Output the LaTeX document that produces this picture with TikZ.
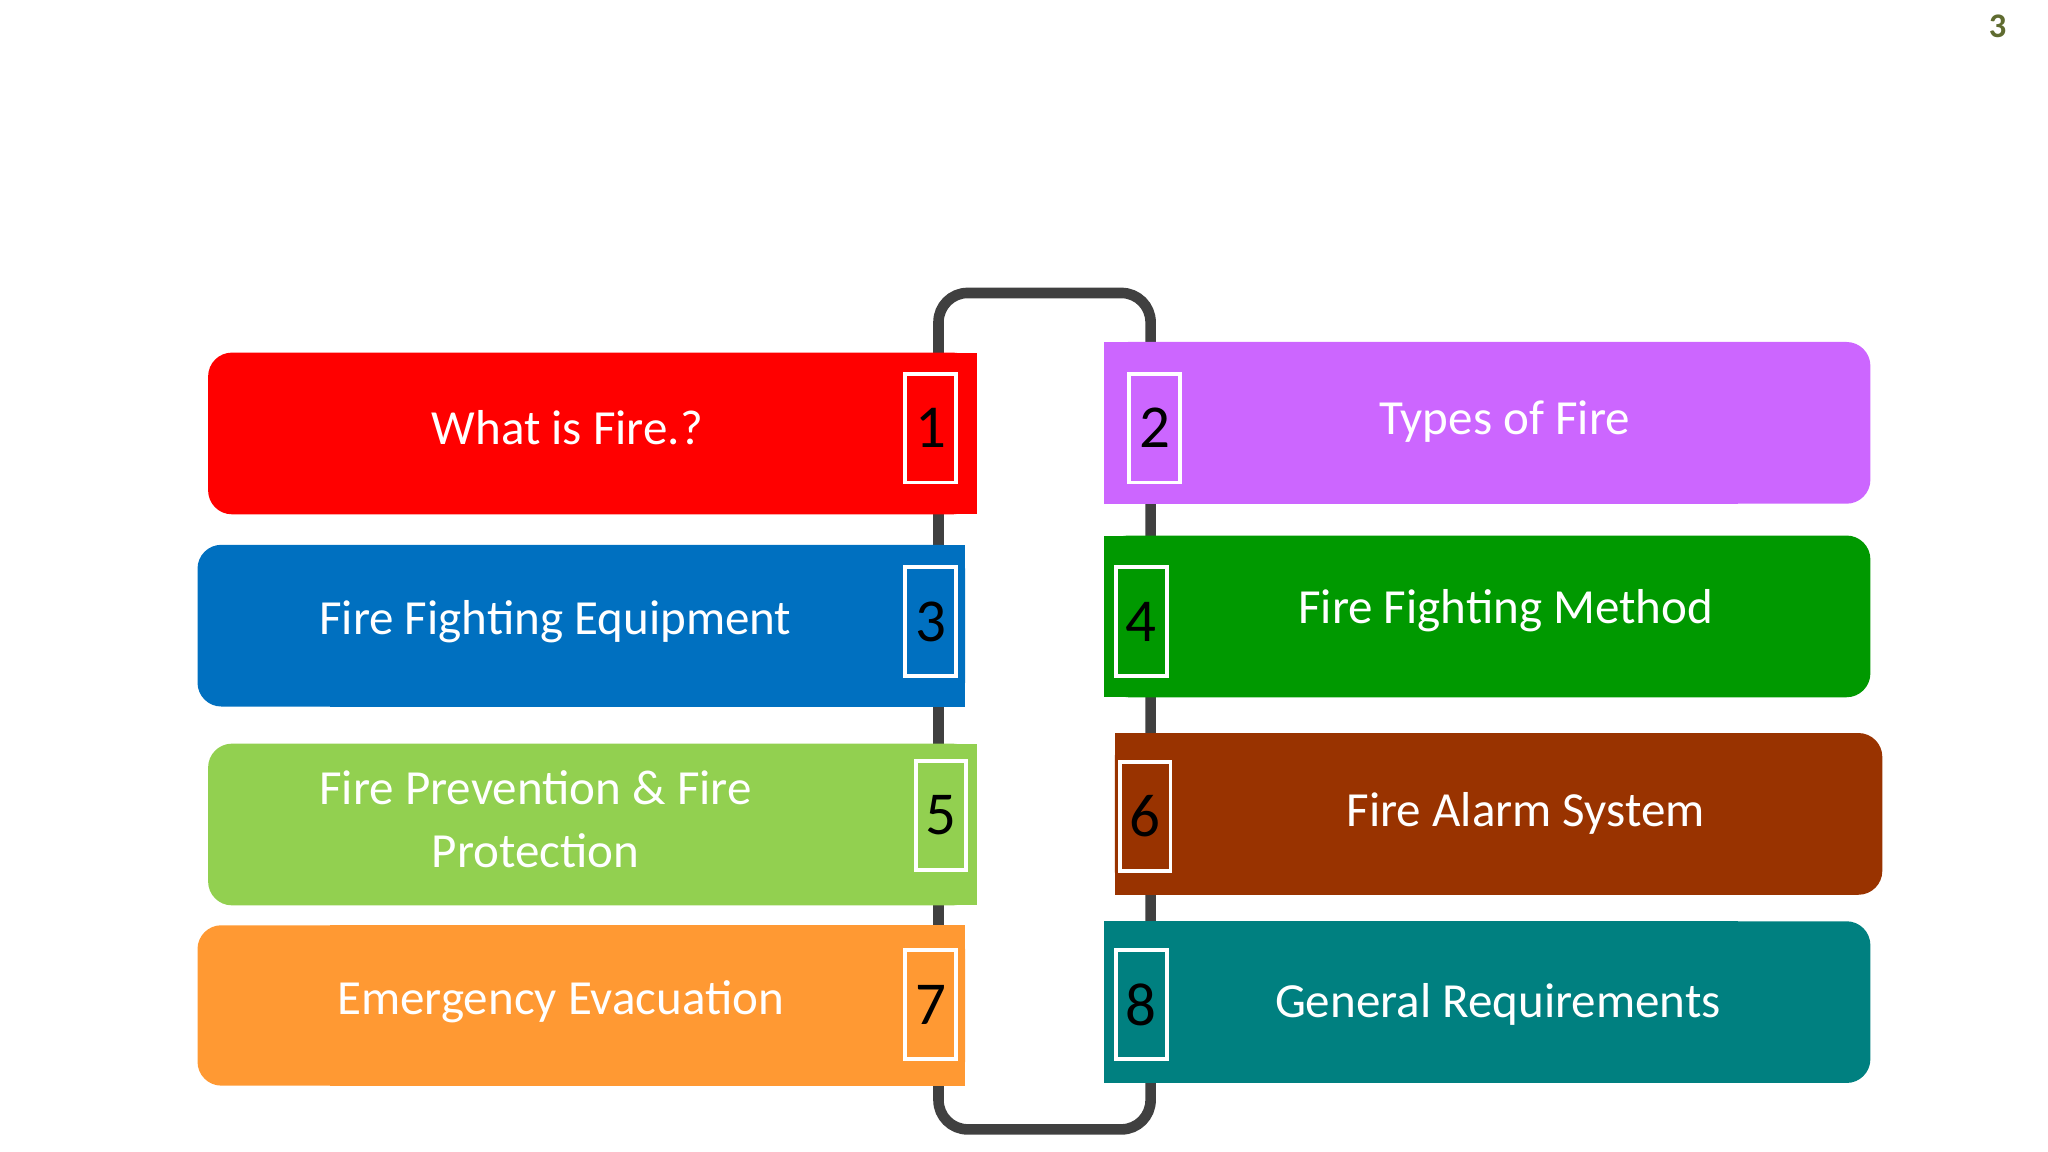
\documentclass[tikz,border=0pt]{standalone}
\usepackage{fontspec}
\setmainfont{Carlito}
\definecolor{cred}{HTML}{FF0000}
\definecolor{cpur}{HTML}{CC66FF}
\definecolor{cblue}{HTML}{0070C0}
\definecolor{cgreen}{HTML}{009900}
\definecolor{clgreen}{HTML}{92D050}
\definecolor{cbrown}{HTML}{993300}
\definecolor{corange}{HTML}{FF9933}
\definecolor{cteal}{HTML}{008080}
\definecolor{loopc}{HTML}{404040}
\definecolor{pagec}{HTML}{5F6B30}
\begin{document}
\begin{tikzpicture}[x=1pt,y=-1pt,
  lbl/.style={text=white,font=\fontsize{37}{48}\selectfont,align=center},
  numbox/.style={draw=white,line width=3pt,minimum width=38pt,minimum height=82pt,inner sep=0pt,font=\fontsize{46}{46}\selectfont,text=black}]
\useasboundingbox (0,0) rectangle (1545,869);
\node[font=\bfseries\fontsize{26}{26}\selectfont,text=pagec] (pg) at (1507,20) {3};
\draw[loopc,line width=8pt,rounded corners=22] (708,221) rectangle (868,852);
\newcommand{\lbar}[5]{\fill[#1,rounded corners=18] (#2,#4) rectangle (#3,#5); \fill[#1] (#2+100,#4) rectangle (#3,#5);}
\newcommand{\rbar}[5]{\fill[#1,rounded corners=18] (#2,#4) rectangle (#3,#5); \fill[#1] (#2,#4) rectangle (#3-100,#5);}
\lbar{cred}{157}{737}{266}{388}
\lbar{cblue}{149}{728}{411}{533}
\lbar{clgreen}{157}{737}{561}{683}
\lbar{corange}{149}{728}{698}{819}
\rbar{cpur}{833}{1411}{258}{380}
\rbar{cgreen}{833}{1411}{404}{526}
\rbar{cbrown}{841}{1420}{553}{675}
\rbar{cteal}{833}{1411}{695}{817}
\node[lbl] (t1) at (428,323) {What is Fire.?};
\node[lbl] (t3) at (419,469) {Fire Fighting Equipment};
\node[lbl] (t5) at (404,618) {Fire Prevention \& Fire\\Protection};
\node[lbl] (t7) at (423,756) {Emergency Evacuation};
\node[lbl] (t2) at (1135,318) {Types of Fire};
\node[lbl] (t4) at (1136,461) {Fire Fighting Method};
\node[lbl] (t6) at (1151,614) {Fire Alarm System};
\node[lbl] (t8) at (1130,758) {General Requirements};
\node[numbox] (n1) at (702,323) {1};
\node[numbox] (n3) at (702,469) {3};
\node[numbox] (n5) at (710,615) {5};
\node[numbox] (n7) at (702,758) {7};
\node[numbox] (n2) at (871,323) {2};
\node[numbox] (n4) at (861,469) {4};
\node[numbox] (n6) at (864,616) {6};
\node[numbox] (n8) at (861,758) {8};
\end{tikzpicture}
\end{document}
